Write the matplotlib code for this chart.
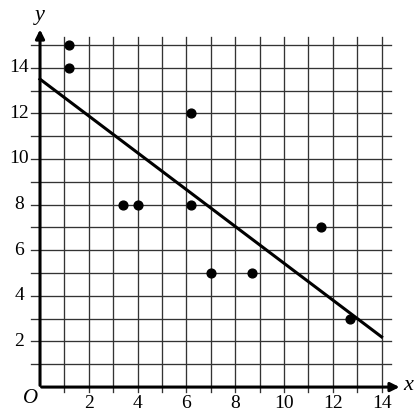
import matplotlib
matplotlib.use('Agg')
from matplotlib import pyplot as plt

# scatter points
xs = [1.2, 1.2, 3.4, 4.0, 6.2, 6.2, 7.0, 8.7, 11.5, 12.7]
ys = [15, 14, 8, 8, 12, 8, 5, 5, 7, 3]

# line of best fit endpoints
line_x = [0, 14]
line_y = [13.5, 2.2]

xticks = [2, 4, 6, 8, 10, 12, 14]
yticks = [2, 4, 6, 8, 10, 12, 14]

fig = plt.figure(figsize=(4.16, 4.19), dpi=100)
ax = fig.add_axes([0, 0, 1, 1])
ax.set_xlim(-1.64, 15.41)
ax.set_ylim(-1.40, 16.97)
ax.axis('off')

serif = 'Liberation Serif'

# grid
for gx in range(1, 15):
    ax.plot([gx, gx], [-0.22, 15.35], color='#333333', lw=0.95, zorder=1)
for gy in range(1, 16):
    ax.plot([-0.35, 14.4], [gy, gy], color='#333333', lw=0.95, zorder=1)

# axes with arrows
ax.annotate('', xy=(0, 15.8), xytext=(0, -0.05),
            arrowprops=dict(arrowstyle='-|>', lw=2.2, color='black', mutation_scale=13))
ax.annotate('', xy=(14.85, 0), xytext=(-0.05, 0),
            arrowprops=dict(arrowstyle='-|>', lw=2.2, color='black', mutation_scale=13))

# fitted line and points
ax.plot(line_x, line_y, color='black', lw=2.2, zorder=3)
ax.scatter(xs, ys, s=40, color='black', zorder=4)

for t in yticks:
    ax.text(-0.86, t, str(t), fontsize=14, family=serif, ha='center', va='center')
for t in xticks:
    ax.text(t, -0.7, str(t), fontsize=14, family=serif, ha='center', va='center')

ax.text(-0.4, -0.5, 'O', fontsize=15, family=serif, style='italic', ha='center', va='center')
ax.text(0.0, 16.3, 'y', fontsize=16, family=serif, style='italic', ha='center', va='center')
ax.text(15.1, 0.05, 'x', fontsize=16, family=serif, style='italic', ha='center', va='center')

plt.savefig('out.png', dpi=100)
